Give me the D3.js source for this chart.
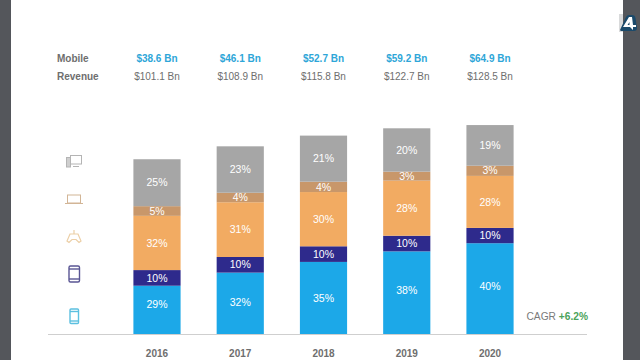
<!DOCTYPE html>
<html>
<head>
<meta charset="utf-8">
<script src="https://cdn.jsdelivr.net/npm/d3@7"></script>
<style>
  html, body { margin: 0; padding: 0; background: #fff; }
  svg { display: block; font-family: "Liberation Sans", Arial, sans-serif; }
</style>
</head>
<body>
<div id="chart"></div>
<script>
var years = ["2016", "2017", "2018", "2019", "2020"];
var mobileRevenue = ["$38.6 Bn", "$46.1 Bn", "$52.7 Bn", "$59.2 Bn", "$64.9 Bn"];
var totalRevenue = ["$101.1 Bn", "$108.9 Bn", "$115.8 Bn", "$122.7 Bn", "$128.5 Bn"];
var seriesNames = ["phone", "tablet", "console", "laptop", "desktop"];
var seriesColors = ["#1ca8e8", "#2e2a8c", "#f2ab62", "#c8976a", "#a6a6a6"];

// bar segment sizes
var phoneValues = [28.4, 36.1, 42.4, 48.6, 53.4];
var tabletValues = [9.2, 9.2, 9.2, 9.2, 9.0];
var consoleValues = [31.9, 32.2, 31.9, 32.4, 30.6];
var laptopValues = [5.7, 5.6, 6.1, 5.3, 6.0];
var desktopValues = [27.6, 27.3, 27.1, 25.5, 23.9];

// percent labels printed on the segments
var phoneShare = [29, 32, 35, 38, 40];
var tabletShare = [10, 10, 10, 10, 10];
var consoleShare = [32, 31, 30, 28, 28];
var laptopShare = [5, 4, 4, 3, 3];
var desktopShare = [25, 23, 21, 20, 19];

var rows = years.map(function (year, i) {
  return {
    year: year,
    phone: phoneValues[i], tablet: tabletValues[i], console: consoleValues[i],
    laptop: laptopValues[i], desktop: desktopValues[i]
  };
});
var shares = {phone: phoneShare, tablet: tabletShare, console: consoleShare, laptop: laptopShare, desktop: desktopShare};

var svg = d3.select("#chart")
  .append("svg")
    .attr("width", 640)
    .attr("height", 360);

// slide frame on both sides
svg.append("rect").attr("x", 0).attr("y", 0).attr("width", 11).attr("height", 360).attr("fill", "#54565b");
svg.append("rect").attr("x", 623).attr("y", 0).attr("width", 17).attr("height", 360).attr("fill", "#54565b");

var x = d3.scaleBand()
  .domain(years)
  .range([116.75, 530.25])
  .paddingInner(0.4333)
  .paddingOuter(0.2);

var y = d3.scaleLinear()
  .domain([0, 130])
  .range([334, 113]);

var stack = d3.stack().keys(seriesNames);
var color = d3.scaleOrdinal().domain(seriesNames).range(seriesColors);

var layers = svg.append("g")
  .selectAll("g")
  .data(stack(rows))
  .enter()
  .append("g")
    .attr("fill", function (d) { return color(d.key); });

layers.selectAll("rect")
  .data(function (d) { return d; })
  .enter()
  .append("rect")
    .attr("x", function (d) { return x(d.data.year); })
    .attr("y", function (d) { return y(d[1]); })
    .attr("width", x.bandwidth())
    .attr("height", function (d) { return y(d[0]) - y(d[1]); });

// the labels on the blue segments do not sit quite in the middle
var phoneLabelNudge = [-6, -1, 0, -2.5, -2];

layers.each(function (layer) {
  d3.select(this).selectAll("text")
    .data(layer)
    .enter()
    .append("text")
      .attr("x", function (d) { return x(d.data.year) + x.bandwidth() / 2; })
      .attr("y", function (d, i) {
        var nudge = layer.key == "phone" ? phoneLabelNudge[i] : 0;
        return (y(d[0]) + y(d[1])) / 2 + nudge;
      })
      .attr("dy", "0.35em")
      .attr("text-anchor", "middle")
      .attr("font-size", 10.5)
      .attr("fill", "#fff")
      .text(function (d, i) { return shares[layer.key][i] + "%"; });
});

// baseline and year labels
var xAxis = svg.append("g")
  .attr("transform", "translate(0,334)")
  .call(d3.axisBottom(x).tickSize(0).tickPadding(16));
xAxis.select(".domain").remove();
xAxis.selectAll("text")
  .attr("font-family", "Liberation Sans")
  .attr("font-size", 10)
  .attr("font-weight", "bold")
  .attr("fill", "#6e6e6e");

svg.append("line")
  .attr("x1", 48).attr("x2", 587)
  .attr("y1", 334.5).attr("y2", 334.5)
  .attr("stroke", "#cfcfcf");

// header rows
var center = function (year) { return x(year) + x.bandwidth() / 2; };

svg.append("g").selectAll("text")
  .data(mobileRevenue)
  .enter()
  .append("text")
    .attr("x", function (d, i) { return center(years[i]); })
    .attr("y", 61.5)
    .attr("text-anchor", "middle")
    .attr("font-size", 10)
    .attr("font-weight", "bold")
    .attr("fill", "#2ea6d8")
    .text(function (d) { return d; });

svg.append("g").selectAll("text")
  .data(totalRevenue)
  .enter()
  .append("text")
    .attr("x", function (d, i) { return center(years[i]); })
    .attr("y", 80)
    .attr("text-anchor", "middle")
    .attr("font-size", 10)
    .attr("fill", "#6e6e6e")
    .text(function (d) { return d; });

svg.append("text").attr("x", 57).attr("y", 61.5)
  .attr("font-size", 10).attr("font-weight", "bold").attr("fill", "#6e6e6e").text("Mobile");
svg.append("text").attr("x", 57).attr("y", 80)
  .attr("font-size", 10).attr("font-weight", "bold").attr("fill", "#6e6e6e").text("Revenue");

// CAGR note
var cagr = svg.append("text").attr("x", 526.5).attr("y", 319.5).attr("font-size", 10.2).attr("fill", "#7a7a7a");
cagr.append("tspan").text("CAGR ");
cagr.append("tspan").attr("font-weight", "bold").attr("fill", "#4ba35a").text("+6.2%");

// device icons on the left
var icons = svg.append("g").attr("fill", "none").attr("stroke-width", 1);

var desktop = icons.append("g").attr("stroke", "#b4b4b4");
desktop.append("rect").attr("x", 70.5).attr("y", 155.5).attr("width", 11).attr("height", 8.5).attr("fill", "#fff");
desktop.append("rect").attr("x", 66.5).attr("y", 157.5).attr("width", 4).attr("height", 9.5).attr("fill", "#cfcfcf");
desktop.append("line").attr("x1", 73).attr("x2", 79).attr("y1", 166.5).attr("y2", 166.5);

var laptop = icons.append("g").attr("stroke", "#d2b596");
laptop.append("rect").attr("x", 67.5).attr("y", 195).attr("width", 13).attr("height", 8);
laptop.append("line").attr("x1", 65).attr("x2", 83).attr("y1", 203.5).attr("y2", 203.5);

var pad = icons.append("g").attr("stroke", "#eccfa6").attr("stroke-width", 1.2);
pad.append("path").attr("d", "M74 230v4M70 234h8l3 7-2 1.500-3-3h-4l-3 3-2-1.500z");

var tablet = icons.append("g").attr("stroke", "#5a5694").attr("stroke-width", 1.4);
tablet.append("rect").attr("x", 69).attr("y", 266).attr("width", 10.5).attr("height", 16).attr("rx", 1.5);
tablet.append("line").attr("x1", 69).attr("x2", 79.5).attr("y1", 269).attr("y2", 269);
tablet.append("line").attr("x1", 69).attr("x2", 79.5).attr("y1", 279).attr("y2", 279);

var phone = icons.append("g").attr("stroke", "#5cc0e0").attr("stroke-width", 1.4);
phone.append("rect").attr("x", 70).attr("y", 309).attr("width", 8.5).attr("height", 14.5).attr("rx", 1);
phone.append("line").attr("x1", 70).attr("x2", 78.5).attr("y1", 311.5).attr("y2", 311.5);
phone.append("line").attr("x1", 70).attr("x2", 78.5).attr("y1", 321).attr("y2", 321);

// small logo on the frame
var logo = svg.append("g");
logo.append("rect").attr("x", 619).attr("y", 14).attr("width", 4).attr("height", 18).attr("fill", "#d9dadb");
logo.append("path").attr("d", "M620 30 l6-13 q1-2 3-2 h3 q3 0 3.500 3 l1.500 10 q0 3-3 3 h-12 q-2.500 0-1.500-1z").attr("fill", "#1b4a6b");
logo.append("path").attr("d", "M629 17 l-6 10 h7 l3 3 v-3 h3 v-2 h-3 l-1-8z M629.500 22 v3 h-2z").attr("fill", "#fff").attr("fill-rule", "evenodd");
</script>
</body>
</html>
